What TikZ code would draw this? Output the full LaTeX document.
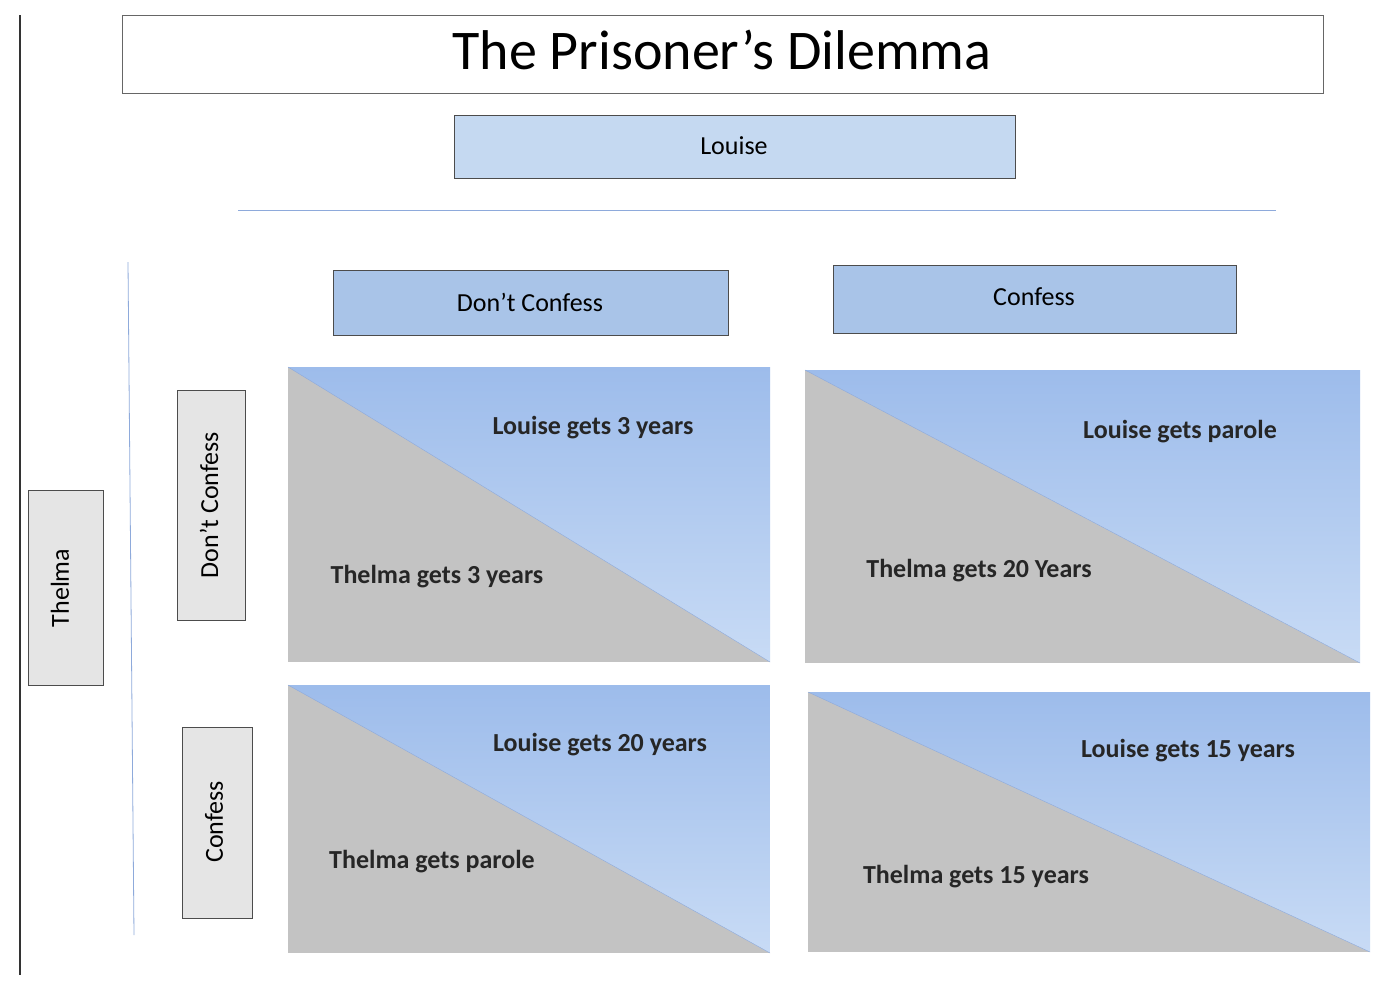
\documentclass[tikz,border=0pt]{standalone}
\usepackage{fontspec}
\setmainfont{Carlito}
\definecolor{lightblue}{HTML}{C5D9F1}
\definecolor{midblue}{HTML}{A9C4E8}
\definecolor{cellblue}{HTML}{9DBCEB}
\definecolor{cellpale}{HTML}{C8DBF5}
\definecolor{cellgray}{HTML}{C3C3C3}
\definecolor{rule}{HTML}{8EAADB}
\tikzset{
  box/.style={draw=black!70, thick},
  celltext/.style={font=\bfseries\fontsize{26}{28}\selectfont, text=black!85}
}
\newcommand{\payoff}[4]{%
  \fill[cellgray] (#1,#2) rectangle (#3,#4);
  \shade[top color=cellblue, bottom color=cellpale] (#1,#2) -- (#3,#2) -- (#3,#4) -- cycle;
  \draw[rule, thin] (#1,#2) -- (#3,#4);
}
\begin{document}
\begin{tikzpicture}[x=1pt,y=-1pt]
  \useasboundingbox (0,0) rectangle (1396,1004);
  \fill[white] (0,0) rectangle (1396,1004);
  \draw[black!80, line width=2pt] (20,15) -- (20,975);

  % title and column player
  \draw[box, draw=black!60] (122,15) rectangle (1323,93);
  \node[font=\fontsize{56}{60}\selectfont] (title) at (722,50) {The Prisoner’s Dilemma};
  \draw[box, fill=lightblue] (454,115) rectangle (1015,178);
  \node[font=\fontsize{26}{28}\selectfont] (louise) at (734,146) {Louise};
  \draw[rule, thick] (238,210) -- (1276,210);
  \draw[rule, thick] (128,262) -- (134,935);

  \draw[box, fill=midblue] (333,270) rectangle (728,335);
  \node[font=\fontsize{26}{28}\selectfont] (colA) at (530,302) {Don’t Confess};
  \draw[box, fill=midblue] (833,265) rectangle (1236,333);
  \node[font=\fontsize{26}{28}\selectfont] (colB) at (1034,297) {Confess};

  % row player
  \draw[box, fill=black!10] (28,490) rectangle (103,685);
  \node[rotate=90, font=\fontsize{26}{28}\selectfont] (thelma) at (60,588) {Thelma};
  \draw[box, fill=black!10] (177,390) rectangle (245,620);
  \node[rotate=90, font=\fontsize{26}{28}\selectfont] (rowA) at (209,505) {Don’t Confess};
  \draw[box, fill=black!10] (182,727) rectangle (252,918);
  \node[rotate=90, font=\fontsize{26}{28}\selectfont] (rowB) at (214,822) {Confess};

  % payoff cells
  \payoff{288}{367}{770}{662}
  \payoff{805}{370}{1360}{663}
  \payoff{288}{685}{770}{953}
  \payoff{808}{692}{1370}{952}

  \node[celltext] (l11) at (593,428) {Louise gets 3 years};
  \node[celltext] (t11) at (437,577) {Thelma gets 3 years};
  \node[celltext] (l12) at (1180,432) {Louise gets parole};
  \node[celltext] (t12) at (979,571) {Thelma gets 20 Years};
  \node[celltext] (l21) at (600,745) {Louise gets 20 years};
  \node[celltext] (t21) at (432,862) {Thelma gets parole};
  \node[celltext] (l22) at (1188,751) {Louise gets 15 years};
  \node[celltext] (t22) at (976,877) {Thelma gets 15 years};
\end{tikzpicture}
\end{document}
